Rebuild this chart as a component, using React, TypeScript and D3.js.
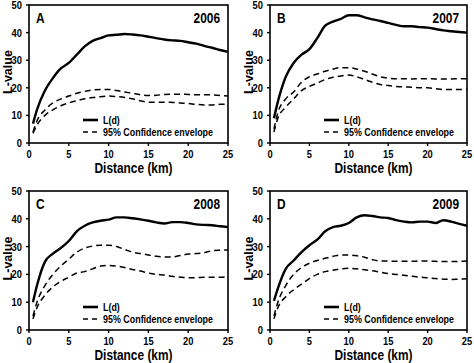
import * as d3 from "d3";
import { useEffect, useRef } from "react";

// ---- data ----
const distances = [0.5, 1, 2, 3, 4, 5, 6, 7, 8, 9, 10, 11, 12, 13, 14, 15, 16, 17, 18, 19, 20, 21, 22, 23, 24, 25];

const ldA = [7, 12, 19, 23.5, 27, 29, 32, 35, 37, 38, 39, 39.2, 39.5, 39.3, 39, 38.5, 38, 37.5, 37.2, 37, 36.5, 36, 35.2, 34.5, 33.7, 33];
const upA = [4, 8, 12, 14.5, 16, 17, 18, 18.7, 19.2, 19.4, 19.4, 19, 18.5, 18, 17.5, 17.2, 17.3, 17.6, 17.7, 17.7, 17.6, 17.5, 17.5, 17.4, 17.2, 17];
const loA = [3.5, 6.5, 10, 12, 13.5, 14.5, 15.3, 16, 16.5, 16.8, 17, 16.8, 16.5, 16, 15.3, 14.8, 14.8, 14.8, 14.7, 14.5, 14.3, 14, 13.8, 13.8, 14, 14];

const ldB = [9, 15, 24, 29, 32, 34, 38, 42.5, 44, 45, 46.3, 46.3, 45.5, 44.8, 44.2, 43.5, 42.8, 42.3, 42.3, 42, 41.8, 41.3, 40.8, 40.5, 40.2, 40];
const upB = [5, 11, 16, 18.5, 22, 24, 25, 26, 26.8, 27.3, 27.3, 26.8, 26, 25, 24, 23.5, 23.3, 23.3, 23.2, 23.3, 23.3, 23.2, 23.2, 23.2, 23.3, 23.3];
const loB = [4, 9, 13, 16, 19, 20.5, 21.7, 23, 23.8, 24.3, 24.6, 24, 23, 22, 21.2, 20.8, 20.5, 20.3, 20.2, 20, 20, 19.7, 19.4, 19.4, 19.4, 19.4];

const ldC = [10, 16, 24.5, 27.5, 29.5, 32, 35.5, 37.5, 38.7, 39.3, 39.7, 40.5, 40.5, 40.2, 39.8, 39.3, 38.7, 38.3, 38.8, 38.8, 38.5, 38, 37.8, 37.7, 37.3, 37];
const upC = [5, 10, 16, 20, 23, 25.5, 28, 29.5, 30.2, 30.5, 30.5, 30, 29, 28, 27.5, 27, 26.5, 26.3, 26.3, 26.8, 27.3, 27.5, 27.8, 28.5, 28.7, 28.8];
const loC = [4, 8, 12.5, 15.5, 17.5, 19, 20.5, 21, 22, 23, 23.2, 23, 22.5, 21.8, 21.2, 20.5, 20, 19.8, 19.3, 19, 18.8, 18.8, 19, 19, 19, 19.2];

const ldD = [10.5, 15, 22, 25, 28, 30.5, 32.5, 35.5, 37, 37.5, 38.5, 40.5, 41.3, 41, 40.5, 40.3, 39.5, 39, 38.7, 39, 39, 38.5, 39.5, 39, 38.2, 37.5];
const upD = [5, 10, 16, 20, 22.5, 24, 25, 25.8, 26.5, 27, 27, 26.7, 26.2, 25.3, 24.8, 24.8, 24.7, 24.7, 24.7, 24.8, 24.8, 24.7, 24.6, 24.6, 24.7, 24.8];
const loD = [4, 8, 12, 14.5, 16.5, 18.5, 20, 21, 21.5, 22, 22.2, 22, 21.7, 21.3, 20.8, 20.3, 20, 19.7, 19.3, 19, 18.8, 18.5, 18.3, 18.2, 18.3, 18.4];

const panelLetters = ["A", "B", "C", "D"];
const panelYears = ["2006", "2007", "2008", "2009"];
const xTicks = [0, 5, 10, 15, 20, 25];
const yTicks = [0, 10, 20, 30, 40, 50];
const legendLabels = ["L(d)", "95% Confidence envelope"];

export default function App() {
    const ref = useRef<SVGSVGElement | null>(null);

    useEffect(() => {
        const width = 474;
        const height = 363;
        const svg = d3.select(ref.current);
        svg.selectAll("*").remove();
        svg.attr("viewBox", `0 0 ${width} ${height}`);

        const font = "'Liberation Sans', Arial, sans-serif";
        const sx = 0.85; // 原圖水平方向有壓縮

        // 面板位置
        const boxes = [
            { x0: 29, x1: 228, top: 5, bottom: 143 },
            { x0: 270, x1: 467, top: 5, bottom: 143 },
            { x0: 29, x1: 228, top: 191, bottom: 330 },
            { x0: 270, x1: 467, top: 191, bottom: 330 },
        ];
        const series = [
            [ldA, upA, loA],
            [ldB, upB, loB],
            [ldC, upC, loC],
            [ldD, upD, loD],
        ];

        const txt = (g: any, x: number, y: number, s: string, size: number, anchor: string, rot = 0) =>
            g.append("text")
                .attr("transform", rot ? `translate(${x},${y}) rotate(${rot})` : `translate(${x},${y}) scale(${sx},1)`)
                .attr("text-anchor", anchor)
                .attr("font-family", font)
                .attr("font-weight", 700)
                .attr("font-size", size)
                .attr("fill", "#000")
                .text(s);

        boxes.forEach((b, i) => {
            const g = svg.append("g");
            const x = d3.scaleLinear().domain([0, 25]).range([b.x0, b.x1]);
            const y = d3.scaleLinear().domain([0, 50]).range([b.bottom, b.top]);

            // ---- 曲線 ----
            const line = d3.line<number>()
                .x((_, j) => x(distances[j]))
                .y((d) => y(d))
                .curve(d3.curveMonotoneX);
            const [ld, up, lo] = series[i];
            [up, lo].forEach((s) => {
                g.append("path").attr("d", line(s)).attr("fill", "none")
                    .attr("stroke", "#000").attr("stroke-width", 1.5)
                    .attr("stroke-dasharray", "6,4");
            });
            g.append("path").attr("d", line(ld)).attr("fill", "none")
                .attr("stroke", "#000").attr("stroke-width", 2.4)
                .attr("stroke-linejoin", "round");

            // ---- 外框 ----
            g.append("rect")
                .attr("x", b.x0).attr("y", b.top)
                .attr("width", b.x1 - b.x0).attr("height", b.bottom - b.top)
                .attr("fill", "none").attr("stroke", "#000").attr("stroke-width", 1.6);

            // ---- 刻度 ----
            xTicks.forEach((t) => {
                g.append("line").attr("x1", x(t)).attr("x2", x(t))
                    .attr("y1", b.bottom).attr("y2", b.bottom + 3)
                    .attr("stroke", "#000").attr("stroke-width", 1.4);
                txt(g, x(t), b.bottom + 15, String(t), 11, "middle");
            });
            yTicks.forEach((t) => {
                g.append("line").attr("x1", b.x0 - 3).attr("x2", b.x0)
                    .attr("y1", y(t)).attr("y2", y(t))
                    .attr("stroke", "#000").attr("stroke-width", 1.4);
                txt(g, b.x0 - 7, y(t) + 4, String(t), 11, "end");
            });

            // ---- 標題 ----
            txt(g, (b.x0 + b.x1) / 2 + 5, b.bottom + 30, "Distance (km)", 14, "middle");
            txt(g, b.x0 - 17.5, (b.top + b.bottom) / 2 - 2, "L-value", 12.5, "middle", -90);
            txt(g, b.x0 + 7, b.top + 18, panelLetters[i], 14, "start");
            txt(g, b.x1 - 8, b.top + 18, panelYears[i], 14, "end");

            // ---- 圖例 ----
            const lx = b.x0 + 54;
            const ly1 = b.bottom - 23;
            const ly2 = b.bottom - 11;
            g.append("line").attr("x1", lx).attr("x2", lx + 15).attr("y1", ly1).attr("y2", ly1)
                .attr("stroke", "#000").attr("stroke-width", 2.6);
            g.append("line").attr("x1", lx).attr("x2", lx + 15).attr("y1", ly2).attr("y2", ly2)
                .attr("stroke", "#000").attr("stroke-width", 1.5).attr("stroke-dasharray", "5,4");
            txt(g, lx + 20, ly1 + 4, legendLabels[0], 10.5, "start");
            txt(g, lx + 20, ly2 + 4, legendLabels[1], 10.5, "start");
        });
    }, []);

    return (
        <svg
            ref={ref}
            width={474}
            height={363}
            style={{ position: "absolute", left: 0, top: 0, background: "#fff" }}
        />
    );
}
